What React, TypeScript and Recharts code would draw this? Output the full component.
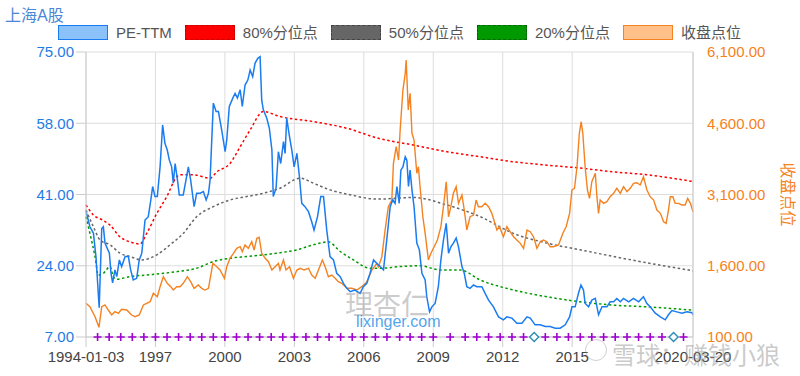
import { CartesianGrid, ComposedChart, Line, Scatter, XAxis, YAxis } from "recharts"

// [year, value] pairs
const pe: [number, number][] = [
    [1994.0, 37], [1994.17, 33.3], [1994.32, 31.8], [1994.43, 26.2], [1994.57, 14], [1994.68, 32.9],
    [1994.75, 33.3], [1994.82, 29.4], [1994.89, 28.5], [1995.01, 27], [1995.08, 22.2], [1995.15, 19.9],
    [1995.25, 23], [1995.33, 21.4], [1995.44, 25.4], [1995.54, 23.8], [1995.69, 26.2], [1995.83, 26.2],
    [1995.93, 23], [1996.04, 20.6], [1996.19, 21], [1996.3, 25.4], [1996.41, 27], [1996.55, 34.9],
    [1996.69, 35.7], [1996.8, 39.7], [1996.88, 42.9], [1996.98, 40.5], [1997.08, 40.5], [1997.2, 47.6],
    [1997.31, 57.6], [1997.41, 53.2], [1997.51, 51.6], [1997.6, 49.2], [1997.7, 47.6], [1997.77, 43.7],
    [1997.85, 48.4], [1997.95, 44.5], [1998.03, 40.9], [1998.2, 40.9], [1998.32, 44.5], [1998.42, 47.6],
    [1998.52, 44.5], [1998.67, 38.1], [1998.78, 41.3], [1998.93, 41.3], [1999.07, 41.7], [1999.19, 39.7],
    [1999.29, 41.3], [1999.36, 44.5], [1999.5, 62.8], [1999.62, 60.8], [1999.72, 60.8], [1999.86, 56.4],
    [2000.01, 51.2], [2000.08, 54], [2000.19, 62], [2000.34, 64], [2000.44, 65.1], [2000.54, 64],
    [2000.66, 66], [2000.75, 62], [2000.87, 67.1], [2000.99, 68.3], [2001.09, 70.7], [2001.2, 69.1],
    [2001.3, 72.3], [2001.42, 73.5], [2001.52, 73.9], [2001.59, 63.5], [2001.66, 61.2], [2001.81, 59.2],
    [2001.92, 56.8], [2002.03, 51.6], [2002.09, 40.5], [2002.21, 42.5], [2002.31, 51.2], [2002.41, 48.4],
    [2002.53, 53.6], [2002.6, 50.8], [2002.67, 59.2], [2002.79, 54.8], [2002.89, 51.6], [2002.99, 47.6],
    [2003.11, 50.8], [2003.22, 45.2], [2003.32, 38.9], [2003.46, 38.1], [2003.61, 36.9], [2003.75, 34.5],
    [2003.85, 32.5], [2004.0, 35.7], [2004.14, 40.5], [2004.26, 40.5], [2004.4, 32.5], [2004.54, 26.2],
    [2004.69, 25.4], [2004.83, 22.2], [2004.98, 21.4], [2005.12, 19.8], [2005.27, 18.6], [2005.41, 17.8],
    [2005.62, 18.2], [2005.84, 17.4], [2005.98, 19], [2006.13, 19.8], [2006.27, 22.2], [2006.42, 25.4],
    [2006.63, 24.2], [2006.78, 23.4], [2006.85, 23], [2006.99, 30.1], [2007.14, 38.1], [2007.25, 39.7],
    [2007.35, 38.9], [2007.43, 42.9], [2007.53, 38.9], [2007.6, 46.8], [2007.69, 47.6], [2007.79, 50],
    [2007.86, 49.2], [2007.93, 42.9], [2008.0, 46.8], [2008.08, 42.1], [2008.17, 38.1], [2008.29, 29.4],
    [2008.4, 27.8], [2008.51, 22.2], [2008.65, 20.6], [2008.72, 16.6], [2008.84, 13], [2008.94, 14.2],
    [2009.08, 15], [2009.22, 19], [2009.33, 25.4], [2009.44, 30.1], [2009.56, 34.1], [2009.66, 27],
    [2009.76, 28.5], [2009.87, 29.4], [2009.99, 30.6], [2010.09, 28.5], [2010.24, 23.8], [2010.34, 22.2],
    [2010.45, 19], [2010.59, 18.6], [2010.74, 19.4], [2010.88, 19], [2011.1, 19], [2011.24, 17.4],
    [2011.39, 15.8], [2011.6, 14.2], [2011.82, 11.8], [2012.03, 11.1], [2012.18, 11.8], [2012.4, 11.5],
    [2012.61, 10.3], [2012.83, 10.3], [2013.05, 11.8], [2013.19, 11.5], [2013.4, 9.9], [2013.62, 9.9],
    [2013.84, 9.5], [2014.05, 9.5], [2014.27, 9.1], [2014.48, 9.1], [2014.7, 9.9], [2014.89, 11.8],
    [2014.99, 14.2], [2015.13, 14.2], [2015.27, 17.4], [2015.38, 19.4], [2015.49, 18.2], [2015.56, 15],
    [2015.71, 14.2], [2015.85, 15.8], [2016.0, 16.2], [2016.14, 12.3], [2016.29, 14.2], [2016.5, 14.2],
    [2016.64, 15.4], [2016.79, 15.4], [2016.93, 16.2], [2017.08, 15.4], [2017.22, 16.2], [2017.44, 15.4],
    [2017.65, 16.2], [2017.87, 15.4], [2018.08, 16.6], [2018.23, 15], [2018.37, 14.2], [2018.59, 12.7],
    [2018.81, 11.8], [2019.02, 11.1], [2019.16, 12.3], [2019.31, 13.3], [2019.52, 13], [2019.74, 12.7],
    [2019.96, 13], [2020.18, 12.8], [2020.22, 12.3],
]

const close: [number, number][] = [
    [1994.0, 810], [1994.17, 738], [1994.39, 527], [1994.56, 304], [1994.68, 738], [1994.82, 774],
    [1994.96, 668], [1995.11, 563], [1995.25, 633], [1995.4, 599], [1995.54, 683], [1995.76, 668],
    [1995.97, 563], [1996.12, 527], [1996.3, 563], [1996.48, 774], [1996.62, 809], [1996.77, 843],
    [1996.91, 1020], [1997.08, 948], [1997.2, 1159], [1997.34, 1369], [1997.51, 1230], [1997.66, 1159],
    [1997.77, 1089], [1997.92, 1159], [1998.06, 1159], [1998.2, 1230], [1998.38, 1369], [1998.52, 1264],
    [1998.67, 1125], [1998.85, 1195], [1999.0, 1125], [1999.14, 1089], [1999.29, 1125], [1999.48, 1651],
    [1999.65, 1580], [1999.79, 1510], [1999.98, 1335], [2000.08, 1580], [2000.22, 1757], [2000.37, 1862],
    [2000.51, 1967], [2000.66, 2001], [2000.75, 1896], [2000.87, 2037], [2001.01, 1967], [2001.16, 2106],
    [2001.26, 1931], [2001.38, 2178], [2001.48, 2199], [2001.59, 1862], [2001.74, 1757], [2001.88, 1685],
    [2002.03, 1510], [2002.17, 1580], [2002.31, 1651], [2002.38, 1510], [2002.53, 1721], [2002.64, 1510],
    [2002.79, 1580], [2002.96, 1335], [2003.11, 1510], [2003.25, 1546], [2003.42, 1510], [2003.61, 1546],
    [2003.75, 1405], [2003.9, 1335], [2004.04, 1510], [2004.21, 1721], [2004.33, 1580], [2004.47, 1369],
    [2004.62, 1405], [2004.76, 1335], [2004.9, 1264], [2005.05, 1230], [2005.27, 1125], [2005.48, 1125],
    [2005.7, 1089], [2005.91, 1159], [2006.13, 1260], [2006.35, 1510], [2006.56, 1651], [2006.63, 1580],
    [2006.78, 1790], [2006.92, 2352], [2007.06, 2843], [2007.21, 2984], [2007.28, 3756], [2007.4, 4106],
    [2007.5, 3826], [2007.57, 4457], [2007.69, 5299], [2007.79, 5651], [2007.83, 5931], [2007.92, 4878],
    [2008.0, 5230], [2008.08, 4388], [2008.17, 4247], [2008.29, 3546], [2008.36, 3685], [2008.43, 3264],
    [2008.55, 2632], [2008.65, 2283], [2008.79, 1721], [2008.9, 1862], [2009.04, 2001], [2009.18, 2142],
    [2009.33, 2422], [2009.44, 2843], [2009.56, 3369], [2009.66, 2632], [2009.76, 2843], [2009.87, 3125],
    [2009.99, 3264], [2010.09, 2914], [2010.24, 3089], [2010.34, 2773], [2010.45, 2352], [2010.59, 2632],
    [2010.74, 2668], [2010.85, 2984], [2010.95, 2843], [2011.1, 2843], [2011.24, 2914], [2011.39, 2843],
    [2011.53, 2703], [2011.75, 2352], [2011.86, 2422], [2012.03, 2211], [2012.18, 2422], [2012.32, 2317],
    [2012.47, 2211], [2012.61, 2142], [2012.76, 2072], [2012.9, 1967], [2013.05, 2352], [2013.19, 2317],
    [2013.33, 2211], [2013.48, 1967], [2013.62, 2106], [2013.76, 2142], [2013.91, 2106], [2014.05, 2001],
    [2014.19, 2001], [2014.41, 2037], [2014.6, 2283], [2014.74, 2422], [2014.89, 2703], [2014.99, 3194],
    [2015.1, 3230], [2015.21, 3685], [2015.31, 4388], [2015.39, 4632], [2015.46, 4388], [2015.56, 3685],
    [2015.66, 3194], [2015.75, 3020], [2015.85, 3369], [2016.0, 3546], [2016.07, 3054], [2016.14, 2703],
    [2016.21, 2984], [2016.36, 2914], [2016.5, 2949], [2016.64, 3054], [2016.79, 3125], [2016.93, 3230],
    [2017.08, 3125], [2017.22, 3264], [2017.37, 3159], [2017.51, 3230], [2017.65, 3335], [2017.8, 3348],
    [2017.94, 3300], [2018.08, 3474], [2018.23, 3194], [2018.37, 3054], [2018.52, 2984], [2018.66, 2773],
    [2018.81, 2703], [2018.95, 2527], [2019.06, 2493], [2019.16, 2773], [2019.24, 3054], [2019.35, 3054],
    [2019.45, 2914], [2019.59, 2914], [2019.74, 2879], [2019.88, 2879], [2019.99, 3020], [2020.11, 2914],
    [2020.22, 2738],
]

const p80: [number, number][] = [
    [1994.0, 38.5], [1994.32, 36.1], [1994.72, 34.9], [1995.04, 33.7], [1995.47, 30.9], [1995.9, 29.7],
    [1996.33, 29.2], [1996.62, 31.7], [1997.06, 36.5], [1997.49, 40.5], [1997.92, 45.2], [1998.06, 45.7],
    [1998.64, 45.7], [1999.36, 44.9], [1999.65, 46.4], [2000.22, 48.4], [2000.66, 52.4], [2001.09, 56.4],
    [2001.66, 60.8], [2002.38, 59.6], [2003.82, 58.4], [2005.27, 56.8], [2006.63, 54.4], [2008.14, 52.8],
    [2009.59, 51.2], [2011.03, 50], [2012.47, 48.8], [2013.91, 48], [2015.35, 47.3], [2016.79, 46.4],
    [2018.23, 45.7], [2020.22, 44.1],
]

const p50: [number, number][] = [
    [1994.0, 37.3], [1994.32, 33.3], [1994.61, 30.1], [1995.04, 29], [1995.47, 27], [1995.9, 26.2],
    [1996.41, 25.4], [1997.06, 26.6], [1997.63, 29], [1998.2, 31.7], [1998.78, 35.7], [1999.5, 38.1],
    [2000.22, 39.7], [2000.94, 40.5], [2001.66, 41.3], [2002.38, 42.5], [2003.25, 44.9], [2003.82, 43.7],
    [2004.54, 42.1], [2005.27, 41.1], [2006.63, 39.9], [2008.14, 40.3], [2009.59, 38.5], [2011.03, 35.7],
    [2012.47, 31.7], [2013.91, 29.4], [2015.35, 27.8], [2016.79, 26.2], [2018.23, 24.7], [2020.22, 22.8],
]

const p20: [number, number][] = [
    [1994.0, 35.7], [1994.17, 31.7], [1994.39, 26.2], [1994.53, 21.8], [1994.75, 22.2], [1995.04, 23.8],
    [1995.18, 21.4], [1995.33, 20.8], [1995.9, 21.4], [1996.62, 21.8], [1997.34, 22.2], [1998.06, 22.7],
    [1998.78, 23.4], [1999.5, 25], [2000.22, 25.8], [2000.94, 26.2], [2001.66, 26.6], [2002.38, 27.1],
    [2003.11, 27.8], [2003.82, 29], [2004.47, 29.7], [2004.98, 27.4], [2005.55, 25.4], [2006.27, 23.4],
    [2006.71, 23.4], [2007.57, 23.8], [2008.43, 24], [2009.3, 23], [2010.16, 23], [2011.03, 20.6],
    [2012.47, 18.2], [2013.91, 16.6], [2015.35, 15.4], [2016.79, 14.6], [2018.23, 14.2], [2020.22, 13.4],
]

// event markers along the bottom (value 7 on the PE axis)
const plusYears = [
    1994.5, 1995.0, 1995.5, 1996.0, 1996.5, 1997.0, 1997.5, 1998.0, 1998.5, 1999.0,
    1999.5, 2000.0, 2000.5, 2001.0, 2001.5, 2002.0, 2002.5, 2003.0, 2003.5, 2004.0,
    2004.5, 2005.0, 2005.5, 2006.0, 2006.5, 2007.0, 2007.55, 2008.0, 2008.5, 2009.0,
    2009.73, 2010.38, 2010.88, 2011.39, 2011.89, 2012.4, 2012.9, 2013.84, 2014.34, 2014.84,
    2015.35, 2015.85, 2016.36, 2016.86, 2017.37, 2017.87, 2018.37, 2018.88, 2019.81,
]
const diamondYears = [2013.36, 2019.38]

const peTicks = [7, 24, 41, 58, 75]
const closeTicks = [100, 1600, 3100, 4600, 6100]
const xTicks = [1994.0, 1997, 2000, 2003, 2006, 2009, 2012, 2015, 2020.22]
const xLabels = ["1994-01-03", "1997", "2000", "2003", "2006", "2009", "2012", "2015", "2020-03-20"]

const legendItems = [
    { name: "PE-TTM", fill: "#8cc2fa", stroke: "#1a7cf0", dashed: false },
    { name: "80%分位点", fill: "#ff0000", stroke: "#c80000", dashed: true },
    { name: "50%分位点", fill: "#666666", stroke: "#444444", dashed: true },
    { name: "20%分位点", fill: "#009900", stroke: "#006600", dashed: true },
    { name: "收盘点位", fill: "#ffc08a", stroke: "#f58220", dashed: false },
]

const rows = (pts: [number, number][]) => pts.map(([t, v]) => ({ t, v }))

const FONT = "Arial, 'Liberation Sans', 'Noto Sans CJK SC', sans-serif"

const PlusMark = (props: any) => {
    const { cx, cy } = props
    return <path d={`M${cx - 4},${cy}H${cx + 4}M${cx},${cy - 4}V${cy + 4}`} stroke="#a000d0" strokeWidth={1.6} fill="none"/>
}

const DiamondMark = (props: any) => {
    const { cx, cy } = props
    return <path d={`M${cx},${cy - 4.5}L${cx + 4.5},${cy}L${cx},${cy + 4.5}L${cx - 4.5},${cy}Z`} stroke="#2a8db5" strokeWidth={1.4} fill="#fff"/>
}

function App() {
    return (
        <div style={{ position: 'absolute', left: 0, top: 0, width: 800, height: 376, fontFamily: FONT, background: '#fff' }}>
            <div style={{ position: 'absolute', left: 5, top: 2, fontSize: 16, color: '#4a86d8' }}>上海A股</div>
            <div style={{ position: 'absolute', left: 58, top: 25, display: 'flex', alignItems: 'center', height: 15 }}>
                {legendItems.map((it) => (
                    <div key={it.name} style={{ display: 'flex', alignItems: 'center', marginRight: 13 }}>
                        <div style={{
                            width: 48, height: 13, background: it.fill,
                            border: `1px ${it.dashed ? 'dashed' : 'solid'} ${it.stroke}`,
                        }}/>
                        <span style={{ marginLeft: 8, fontSize: 15, color: '#555', lineHeight: '15px' }}>{it.name}</span>
                    </div>
                ))}
            </div>

            <ComposedChart width={800} height={376} margin={{ top: 52, right: 0, bottom: 9, left: 0 }}
                           style={{ fontFamily: FONT }}>
                <CartesianGrid yAxisId="left" stroke="#dddddd" ticks={xTicks}/>
                <XAxis dataKey="t" type="number" domain={[1994.0, 2020.22]} ticks={xTicks} interval={0}
                       height={30} tickSize={10} tickMargin={4}
                       tickFormatter={(v: number) => xLabels[xTicks.indexOf(v)] ?? String(v)}
                       stroke="#cccccc" tick={{ fill: '#444', fontSize: 15 }}/>
                <YAxis yAxisId="left" orientation="left" width={86} domain={[7, 75]} ticks={peTicks} interval={0}
                       tickSize={10} tickMargin={2}
                       tickFormatter={(v: number) => v.toFixed(2)}
                       stroke="#cccccc" tick={{ fill: '#1e7be6', fontSize: 15 }}/>
                <YAxis yAxisId="right" orientation="right" width={107} domain={[100, 6100]} ticks={closeTicks}
                       interval={0} tickLine={false} tickSize={6} tickMargin={8}
                       tickFormatter={(v: number) => v.toLocaleString('en-US', { minimumFractionDigits: 2, maximumFractionDigits: 2 })}
                       stroke="#cccccc" tick={{ fill: '#f58220', fontSize: 15 }}
                       label={{ value: '收盘点位', angle: 90, position: 'center', dx: 41, fill: '#f58220', fontSize: 16 }}/>

                <Line data={rows(p80)} dataKey="v" yAxisId="left" type="monotone" stroke="#ff0000" strokeWidth={1.5}
                      strokeDasharray="2.5 2.5" dot={false} isAnimationActive={false}/>
                <Line data={rows(p50)} dataKey="v" yAxisId="left" type="monotone" stroke="#666666" strokeWidth={1.5}
                      strokeDasharray="2.5 2.5" dot={false} isAnimationActive={false}/>
                <Line data={rows(p20)} dataKey="v" yAxisId="left" type="monotone" stroke="#009900" strokeWidth={1.5}
                      strokeDasharray="2.5 2.5" dot={false} isAnimationActive={false}/>
                <Line data={rows(close)} dataKey="v" yAxisId="right" type="linear" stroke="#f58220" strokeWidth={1.4}
                      dot={false} isAnimationActive={false}/>
                <Line data={rows(pe)} dataKey="v" yAxisId="left" type="linear" stroke="#1a7cf0" strokeWidth={1.5}
                      dot={false} isAnimationActive={false}/>
                <Scatter data={plusYears.map((t) => ({ t, v: 7 }))} dataKey="v" yAxisId="left" shape={PlusMark}
                         isAnimationActive={false}/>
                <Scatter data={diamondYears.map((t) => ({ t, v: 7 }))} dataKey="v" yAxisId="left" shape={DiamondMark}
                         isAnimationActive={false}/>
            </ComposedChart>

            {/* watermarks */}
            <div style={{ position: 'absolute', left: 345, top: 283, fontSize: 28, color: 'rgba(140,140,140,0.45)', pointerEvents: 'none' }}>理杏仁</div>
            <div style={{ position: 'absolute', left: 356, top: 313, fontSize: 16, color: 'rgba(30,140,230,0.8)', pointerEvents: 'none' }}>lixinger.com</div>
            <div style={{
                position: 'absolute', left: 585, top: 339, width: 20, height: 20, borderRadius: 11,
                border: '1.5px solid rgba(150,150,150,0.45)', pointerEvents: 'none',
            }}/>
            <div style={{ position: 'absolute', left: 612, top: 336, fontSize: 24, color: 'rgba(150,150,150,0.5)', pointerEvents: 'none' }}>雪球：赚钱小狼</div>
        </div>
    );
}

export default App;
